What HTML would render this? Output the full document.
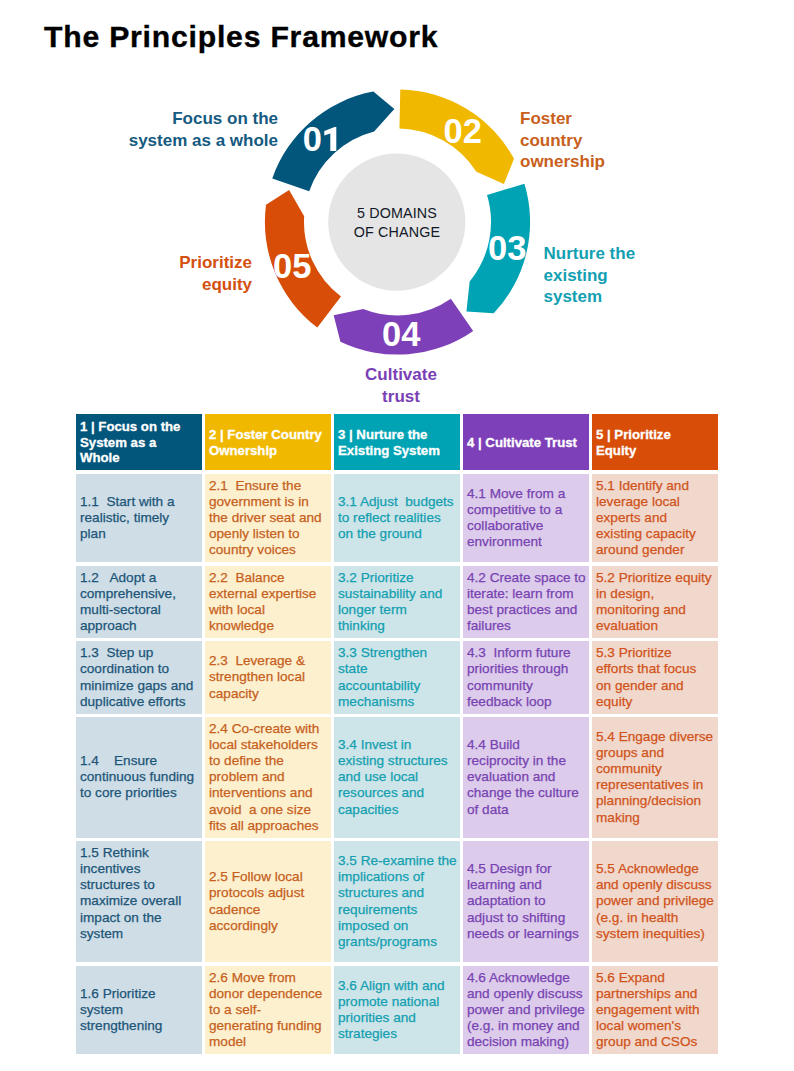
<!DOCTYPE html>
<html><head><meta charset="utf-8"><style>
html,body{margin:0;padding:0;background:#fff;}
body{width:794px;height:1071px;position:relative;overflow:hidden;font-family:"Liberation Sans",sans-serif;}
.title{position:absolute;left:43.5px;top:21px;font-weight:bold;font-size:29px;line-height:32px;white-space:nowrap;color:#000;transform-origin:0 0;transform:scaleX(1.04);letter-spacing:0.76px;-webkit-text-stroke:0.35px #000;}
svg{position:absolute;left:0;top:0;}
.lbl{position:absolute;font-weight:bold;font-size:17px;line-height:21.5px;white-space:nowrap;}
.num{position:absolute;font-weight:bold;font-size:34.5px;line-height:34px;color:#fff;white-space:nowrap;}
.ctr{position:absolute;left:327px;top:204px;width:140px;text-align:center;font-size:14.3px;line-height:18.5px;color:#111827;letter-spacing:0.15px;}
.cell{position:absolute;display:flex;align-items:center;box-sizing:border-box;padding-left:4px;}
.in{white-space:nowrap;}
.hd .in{font-weight:bold;font-size:13.2px;line-height:15.6px;color:#fff;-webkit-text-stroke:0.3px #fff;padding-top:1px;}
.bd .in{font-size:13.6px;line-height:16.1px;-webkit-text-stroke:0.25px currentColor;}
</style></head><body>
<div class="title">The Principles Framework</div>
<svg width="794" height="420" viewBox="0 0 794 420">
<circle cx="396.8" cy="222.1" r="68.6" fill="#e5e5e5"/>
<path d="M400.28 89.43 A132.6 132.6 0 0 1 514.03 158.73 L503.95 184.09 L476.36 171.76 A93.5 93.5 0 0 0 399.46 128.52 Z" fill="#f1b800"/>
<path d="M524.44 183.67 A132.6 132.6 0 0 1 493.68 313.28 L466.45 311.53 L469.65 281.47 A93.5 93.5 0 0 0 487.01 194.98 Z" fill="#00a3b4"/>
<path d="M473.18 330.88 A132.6 132.6 0 0 1 340.41 341.68 L333.66 315.24 L363.23 308.99 A93.5 93.5 0 0 0 450.86 298.78 Z" fill="#7e40b8"/>
<path d="M317.33 327.62 A132.6 132.6 0 0 1 266.03 204.69 L289.10 190.10 L304.17 216.29 A93.5 93.5 0 0 0 340.97 296.48 Z" fill="#d84d07"/>
<path d="M272.28 178.39 A132.6 132.6 0 0 1 373.34 91.62 L394.34 109.04 L374.09 131.48 A93.5 93.5 0 0 0 309.20 191.25 Z" fill="#02557b"/>
<path d="M336.3 127 L336.3 151 L330.3 151 L330.3 133.6 L324.3 135.6 L324.3 131 L334.6 127 Z" fill="#fff"/>
</svg>
<div class="ctr">5 DOMAINS<br>OF CHANGE</div>
<div class="num" style="left:302.8px;top:122px">0</div>
<div class="num" style="left:443.5px;top:114px">02</div>
<div class="num" style="left:488px;top:231px">03</div>
<div class="num" style="left:382px;top:317px">04</div>
<div class="num" style="left:273px;top:249px">05</div>
<div class="lbl" style="right:516px;top:108px;text-align:right;color:#155a80">Focus on the<br>system as a whole</div>
<div class="lbl" style="left:520px;top:108px;color:#c8601c">Foster<br>country<br>ownership</div>
<div class="lbl" style="left:543.5px;top:243px;color:#13a0b2">Nurture the<br>existing<br>system</div>
<div class="lbl" style="right:542px;top:252px;text-align:right;color:#d4500f">Prioritize<br>equity</div>
<div class="lbl" style="left:300px;width:202px;top:364px;text-align:center;color:#7b3fb5">Cultivate<br>trust</div>
<div class="cell hd" style="left:76px;top:414px;width:126px;height:56px;background:#02557b"><div class="in">1 | Focus on the<br>System as a<br>Whole</div></div>
<div class="cell hd" style="left:205px;top:414px;width:126px;height:56px;background:#f1b800"><div class="in">2 | Foster Country<br>Ownership</div></div>
<div class="cell hd" style="left:334px;top:414px;width:126px;height:56px;background:#00a3b4"><div class="in">3 | Nurture the<br>Existing System</div></div>
<div class="cell hd" style="left:463px;top:414px;width:126px;height:56px;background:#7e40b8"><div class="in">4 | Cultivate Trust</div></div>
<div class="cell hd" style="left:592px;top:414px;width:126px;height:56px;background:#d84d07"><div class="in">5 | Prioritize<br>Equity</div></div>
<div class="cell bd" style="left:76px;top:473.6px;width:126px;height:88.4px;background:#cedde6;color:#1c5578"><div class="in">1.1&nbsp; Start with a<br>realistic, timely<br>plan</div></div>
<div class="cell bd" style="left:205px;top:473.6px;width:126px;height:88.4px;background:#fdf0cf;color:#c6601c"><div class="in">2.1&nbsp; Ensure the<br>government is in<br>the driver seat and<br>openly listen to<br>country voices</div></div>
<div class="cell bd" style="left:334px;top:473.6px;width:126px;height:88.4px;background:#cde5e8;color:#139fb1"><div class="in">3.1 Adjust&nbsp; budgets<br>to reflect realities<br>on the ground</div></div>
<div class="cell bd" style="left:463px;top:473.6px;width:126px;height:88.4px;background:#dccbea;color:#7743b2"><div class="in">4.1 Move from a<br>competitive to a<br>collaborative<br>environment</div></div>
<div class="cell bd" style="left:592px;top:473.6px;width:126px;height:88.4px;background:#f1d8cc;color:#d0531a"><div class="in">5.1 Identify and<br>leverage local<br>experts and<br>existing capacity<br>around gender</div></div>
<div class="cell bd" style="left:76px;top:566px;width:126px;height:71.6px;background:#cedde6;color:#1c5578"><div class="in">1.2&nbsp;&nbsp; Adopt a<br>comprehensive,<br>multi-sectoral<br>approach</div></div>
<div class="cell bd" style="left:205px;top:566px;width:126px;height:71.6px;background:#fdf0cf;color:#c6601c"><div class="in">2.2&nbsp; Balance<br>external expertise<br>with local<br>knowledge</div></div>
<div class="cell bd" style="left:334px;top:566px;width:126px;height:71.6px;background:#cde5e8;color:#139fb1"><div class="in">3.2 Prioritize<br>sustainability and<br>longer term<br>thinking</div></div>
<div class="cell bd" style="left:463px;top:566px;width:126px;height:71.6px;background:#dccbea;color:#7743b2"><div class="in">4.2 Create space to<br>iterate: learn from<br>best practices and<br>failures</div></div>
<div class="cell bd" style="left:592px;top:566px;width:126px;height:71.6px;background:#f1d8cc;color:#d0531a"><div class="in">5.2 Prioritize equity<br>in design,<br>monitoring and<br>evaluation</div></div>
<div class="cell bd" style="left:76px;top:641px;width:126px;height:73.0px;background:#cedde6;color:#1c5578"><div class="in">1.3&nbsp; Step up<br>coordination to<br>minimize gaps and<br>duplicative efforts</div></div>
<div class="cell bd" style="left:205px;top:641px;width:126px;height:73.0px;background:#fdf0cf;color:#c6601c"><div class="in">2.3&nbsp; Leverage &amp;<br>strengthen local<br>capacity</div></div>
<div class="cell bd" style="left:334px;top:641px;width:126px;height:73.0px;background:#cde5e8;color:#139fb1"><div class="in">3.3 Strengthen<br>state<br>accountability<br>mechanisms</div></div>
<div class="cell bd" style="left:463px;top:641px;width:126px;height:73.0px;background:#dccbea;color:#7743b2"><div class="in">4.3&nbsp; Inform future<br>priorities through<br>community<br>feedback loop</div></div>
<div class="cell bd" style="left:592px;top:641px;width:126px;height:73.0px;background:#f1d8cc;color:#d0531a"><div class="in">5.3 Prioritize<br>efforts that focus<br>on gender and<br>equity</div></div>
<div class="cell bd" style="left:76px;top:717.2px;width:126px;height:120.4px;background:#cedde6;color:#1c5578"><div class="in">1.4&nbsp;&nbsp;&nbsp; Ensure<br>continuous funding<br>to core priorities</div></div>
<div class="cell bd" style="left:205px;top:717.2px;width:126px;height:120.4px;background:#fdf0cf;color:#c6601c"><div class="in">2.4 Co-create with<br>local stakeholders<br>to define the<br>problem and<br>interventions and<br>avoid&nbsp; a one size<br>fits all approaches</div></div>
<div class="cell bd" style="left:334px;top:717.2px;width:126px;height:120.4px;background:#cde5e8;color:#139fb1"><div class="in">3.4 Invest in<br>existing structures<br>and use local<br>resources and<br>capacities</div></div>
<div class="cell bd" style="left:463px;top:717.2px;width:126px;height:120.4px;background:#dccbea;color:#7743b2"><div class="in">4.4 Build<br>reciprocity in the<br>evaluation and<br>change the culture<br>of data</div></div>
<div class="cell bd" style="left:592px;top:717.2px;width:126px;height:120.4px;background:#f1d8cc;color:#d0531a"><div class="in">5.4 Engage diverse<br>groups and<br>community<br>representatives in<br>planning/decision<br>making</div></div>
<div class="cell bd" style="left:76px;top:841.1px;width:126px;height:120.9px;background:#cedde6;color:#1c5578"><div class="in">1.5 Rethink<br>incentives<br>structures to<br>maximize overall<br>impact on the<br>system<br>&nbsp;</div></div>
<div class="cell bd" style="left:205px;top:841.1px;width:126px;height:120.9px;background:#fdf0cf;color:#c6601c"><div class="in">2.5 Follow local<br>protocols adjust<br>cadence<br>accordingly</div></div>
<div class="cell bd" style="left:334px;top:841.1px;width:126px;height:120.9px;background:#cde5e8;color:#139fb1"><div class="in">3.5 Re-examine the<br>implications of<br>structures and<br>requirements<br>imposed on<br>grants/programs</div></div>
<div class="cell bd" style="left:463px;top:841.1px;width:126px;height:120.9px;background:#dccbea;color:#7743b2"><div class="in">4.5 Design for<br>learning and<br>adaptation to<br>adjust to shifting<br>needs or learnings</div></div>
<div class="cell bd" style="left:592px;top:841.1px;width:126px;height:120.9px;background:#f1d8cc;color:#d0531a"><div class="in">5.5 Acknowledge<br>and openly discuss<br>power and privilege<br>(e.g. in health<br>system inequities)</div></div>
<div class="cell bd" style="left:76px;top:965.5px;width:126px;height:88.5px;background:#cedde6;color:#1c5578"><div class="in">1.6 Prioritize<br>system<br>strengthening</div></div>
<div class="cell bd" style="left:205px;top:965.5px;width:126px;height:88.5px;background:#fdf0cf;color:#c6601c"><div class="in">2.6 Move from<br>donor dependence<br>to a self-<br>generating funding<br>model</div></div>
<div class="cell bd" style="left:334px;top:965.5px;width:126px;height:88.5px;background:#cde5e8;color:#139fb1"><div class="in">3.6 Align with and<br>promote national<br>priorities and<br>strategies</div></div>
<div class="cell bd" style="left:463px;top:965.5px;width:126px;height:88.5px;background:#dccbea;color:#7743b2"><div class="in">4.6 Acknowledge<br>and openly discuss<br>power and privilege<br>(e.g. in money and<br>decision making)</div></div>
<div class="cell bd" style="left:592px;top:965.5px;width:126px;height:88.5px;background:#f1d8cc;color:#d0531a"><div class="in">5.6 Expand<br>partnerships and<br>engagement with<br>local women's<br>group and CSOs</div></div>
</body></html>
